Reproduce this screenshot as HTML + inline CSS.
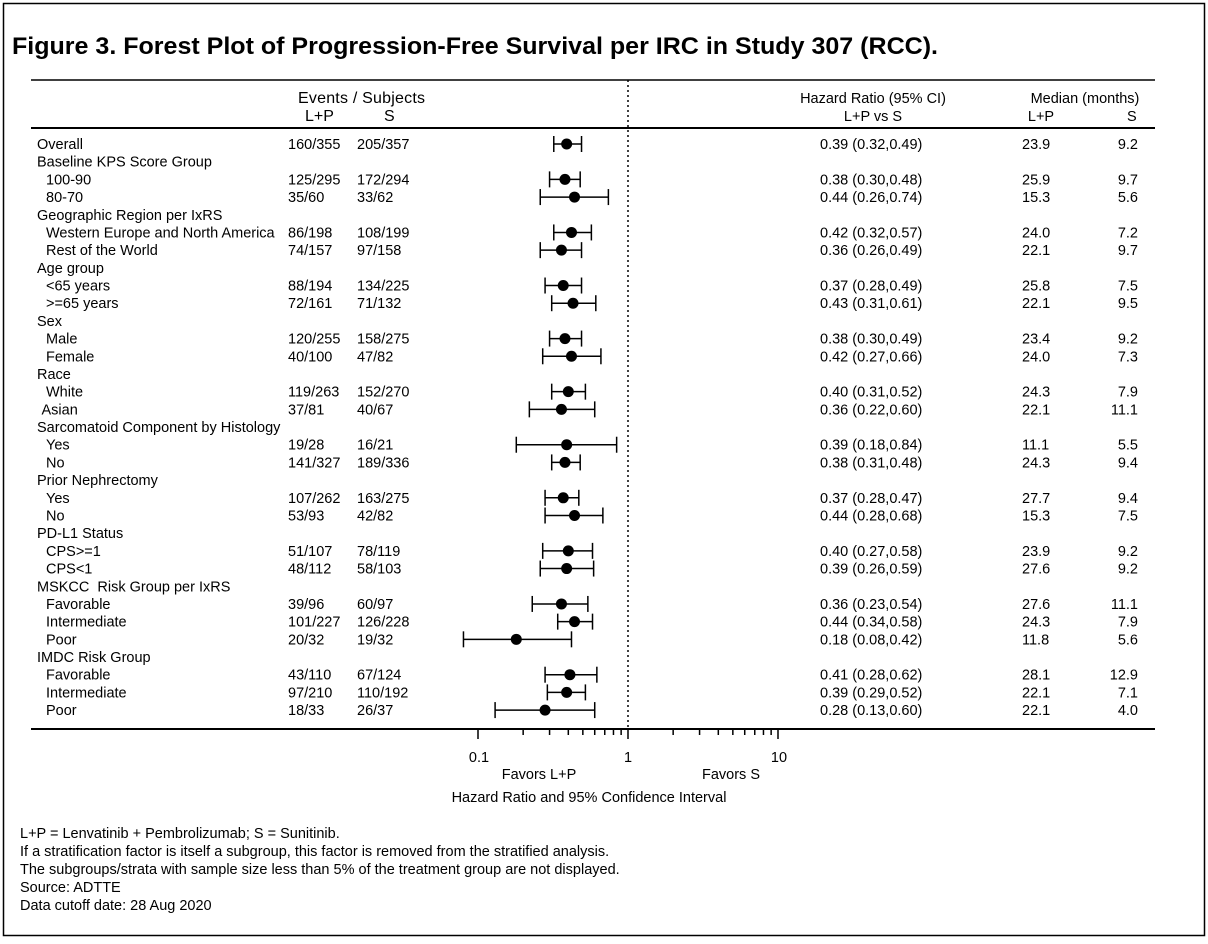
<!DOCTYPE html>
<html><head><meta charset="utf-8"><style>
body{margin:0;background:#fff;}
svg text{font-family:"Liberation Sans",Arial,sans-serif;font-size:14.5px;fill:#000;white-space:pre;}
</style></head><body>
<svg width="1208" height="939" xmlns="http://www.w3.org/2000/svg">
<rect x="3.5" y="3.5" width="1201" height="932" fill="none" stroke="#000" stroke-width="1.5"/>
<text x="12" y="54" textLength="926" lengthAdjust="spacingAndGlyphs" style="font-size:24px;font-weight:bold">Figure 3. Forest Plot of Progression-Free Survival per IRC in Study 307 (RCC).</text>
<line x1="31" y1="80" x2="1155" y2="80" stroke="#000" stroke-width="1.5"/>
<line x1="31" y1="128" x2="1155" y2="128" stroke="#000" stroke-width="2"/>
<line x1="31" y1="729" x2="1155" y2="729" stroke="#000" stroke-width="2"/>
<line x1="628" y1="80" x2="628" y2="729" stroke="#000" stroke-width="1.5" stroke-dasharray="2,3"/>
<text x="298" y="103" textLength="127" style="font-size:16px">Events / Subjects</text>
<text x="305" y="121" style="font-size:16px">L+P</text>
<text x="384" y="121" style="font-size:16px">S</text>
<text x="873" y="103" text-anchor="middle">Hazard Ratio (95% CI)</text>
<text x="873" y="121" text-anchor="middle">L+P vs S</text>
<text x="1085" y="103" text-anchor="middle">Median (months)</text>
<text x="1041" y="121" text-anchor="middle">L+P</text>
<text x="1127" y="121">S</text>
<g id="rows"></g>
<g id="axis" stroke="#000" stroke-width="1.5"></g>
<text x="479" y="762" text-anchor="middle">0.1</text>
<text x="628" y="762" text-anchor="middle">1</text>
<text x="779" y="762" text-anchor="middle">10</text>
<text x="539" y="779" text-anchor="middle">Favors L+P</text>
<text x="731" y="779" text-anchor="middle">Favors S</text>
<text x="589" y="802" text-anchor="middle">Hazard Ratio and 95% Confidence Interval</text>
<text x="20" y="838">L+P = Lenvatinib + Pembrolizumab; S = Sunitinib.</text>
<text x="20" y="856">If a stratification factor is itself a subgroup, this factor is removed from the stratified analysis.</text>
<text x="20" y="874">The subgroups/strata with sample size less than 5% of the treatment group are not displayed.</text>
<text x="20" y="892">Source: ADTTE</text>
<text x="20" y="910">Data cutoff date: 28 Aug 2020</text>
</svg>
<script>
const rows=[
["Overall","160/355","205/357",0.39,0.32,0.49,"23.9","9.2"],
["Baseline KPS Score Group"],
["  100-90","125/295","172/294",0.38,0.30,0.48,"25.9","9.7"],
["  80-70","35/60","33/62",0.44,0.26,0.74,"15.3","5.6"],
["Geographic Region per IxRS"],
["  Western Europe and North America","86/198","108/199",0.42,0.32,0.57,"24.0","7.2"],
["  Rest of the World","74/157","97/158",0.36,0.26,0.49,"22.1","9.7"],
["Age group"],
["  <65 years","88/194","134/225",0.37,0.28,0.49,"25.8","7.5"],
["  >=65 years","72/161","71/132",0.43,0.31,0.61,"22.1","9.5"],
["Sex"],
["  Male","120/255","158/275",0.38,0.30,0.49,"23.4","9.2"],
["  Female","40/100","47/82",0.42,0.27,0.66,"24.0","7.3"],
["Race"],
["  White","119/263","152/270",0.40,0.31,0.52,"24.3","7.9"],
[" Asian","37/81","40/67",0.36,0.22,0.60,"22.1","11.1"],
["Sarcomatoid Component by Histology"],
["  Yes","19/28","16/21",0.39,0.18,0.84,"11.1","5.5"],
["  No","141/327","189/336",0.38,0.31,0.48,"24.3","9.4"],
["Prior Nephrectomy"],
["  Yes","107/262","163/275",0.37,0.28,0.47,"27.7","9.4"],
["  No","53/93","42/82",0.44,0.28,0.68,"15.3","7.5"],
["PD-L1 Status"],
["  CPS>=1","51/107","78/119",0.40,0.27,0.58,"23.9","9.2"],
["  CPS<1","48/112","58/103",0.39,0.26,0.59,"27.6","9.2"],
["MSKCC  Risk Group per IxRS"],
["  Favorable","39/96","60/97",0.36,0.23,0.54,"27.6","11.1"],
["  Intermediate","101/227","126/228",0.44,0.34,0.58,"24.3","7.9"],
["  Poor","20/32","19/32",0.18,0.08,0.42,"11.8","5.6"],
["IMDC Risk Group"],
["  Favorable","43/110","67/124",0.41,0.28,0.62,"28.1","12.9"],
["  Intermediate","97/210","110/192",0.39,0.29,0.52,"22.1","7.1"],
["  Poor","18/33","26/37",0.28,0.13,0.60,"22.1","4.0"]];
const NS="http://www.w3.org/2000/svg";
const g=document.getElementById("rows");
function el(t,a,txt){const e=document.createElementNS(NS,t);for(const k in a)e.setAttribute(k,a[k]);if(txt!==undefined)e.textContent=txt;g.appendChild(e);return e;}
const X=v=>628+150*Math.log10(v);
rows.forEach((r,i)=>{
 const y=144+i*17.69, ty=y+5;
 let lab=r[0]; const m=lab.match(/^ */)[0].length; const ind=m*4.5;
 el("text",{x:37+ind,y:ty},lab.trim());
 if(r.length>1){
  el("text",{x:288,y:ty},r[1]); el("text",{x:357,y:ty},r[2]);
  el("text",{x:820,y:ty},r[3].toFixed(2)+" ("+r[4].toFixed(2)+","+r[5].toFixed(2)+")");
  el("text",{x:1022,y:ty},r[6]); el("text",{x:1138,y:ty,"text-anchor":"end"},r[7]);
  const a=X(r[4]),b=X(r[5]);
  el("line",{x1:a,y1:y,x2:b,y2:y,stroke:"#000","stroke-width":1.5});
  el("line",{x1:a,y1:y-8,x2:a,y2:y+8,stroke:"#000","stroke-width":1.5});
  el("line",{x1:b,y1:y-8,x2:b,y2:y+8,stroke:"#000","stroke-width":1.5});
  el("circle",{cx:X(r[3]),cy:y,r:5.5,fill:"#000"});
 }
});
const ax=document.getElementById("axis");
for(let d=-1;d<=0;d++)for(let k=1;k<=9;k++){
 const v=k*Math.pow(10,d);const x=X(v);
 const l=document.createElementNS(NS,"line");
 l.setAttribute("x1",x);l.setAttribute("x2",x);l.setAttribute("y1",729);l.setAttribute("y2",k==1?739:735);ax.appendChild(l);
}
const l=document.createElementNS(NS,"line");l.setAttribute("x1",X(10));l.setAttribute("x2",X(10));l.setAttribute("y1",729);l.setAttribute("y2",739);ax.appendChild(l);
</script>
</body></html>
